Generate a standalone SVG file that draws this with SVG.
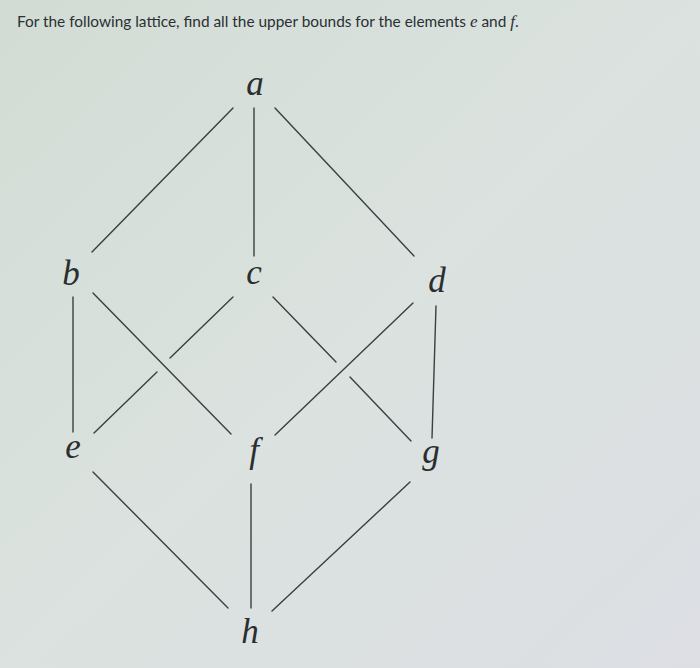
<svg xmlns="http://www.w3.org/2000/svg" width="700" height="668" viewBox="0 0 700 668">
  <defs>
    <linearGradient id="bg" x1="0" y1="0" x2="1" y2="1">
      <stop offset="0" stop-color="#d2dcd4"/>
      <stop offset="0.5" stop-color="#dbe2df"/>
      <stop offset="1" stop-color="#dcdee3"/>
    </linearGradient>
    <style>
      .title { font-family: Lato, "Open Sans", sans-serif; font-size: 15.4px; fill: #2a3034; }
      .math { font-family: "Liberation Serif", serif; font-style: italic; font-size: 17px; }
      .lbl { font-family: "Liberation Serif", serif; font-style: italic; font-size: 35px; fill: #2a2e31; text-anchor: middle; }
      .edge { stroke: #3a3f41; stroke-width: 1.4; stroke-linecap: round; fill: none; }
    </style>
  </defs>
  <rect width="700" height="668" fill="url(#bg)"/>
  <text class="title" x="17" y="27">For the following lattice, find all the upper bounds for the elements <tspan class="math">e</tspan> and <tspan class="math">f</tspan>.</text>

  <g id="connectors">
    <line class="edge" x1="233" y1="108" x2="92" y2="252"/>
    <line class="edge" x1="254" y1="108" x2="254" y2="256"/>
    <line class="edge" x1="275" y1="108" x2="414" y2="256"/>
    <line class="edge" x1="73" y1="297" x2="73" y2="432"/>
    <line class="edge" x1="93" y1="293" x2="231" y2="434"/>
    <line class="edge" x1="233" y1="297" x2="170" y2="358"/>
    <line class="edge" x1="157" y1="372" x2="94" y2="433"/>
    <line class="edge" x1="273" y1="297" x2="336" y2="362"/>
    <line class="edge" x1="350" y1="377" x2="411" y2="441"/>
    <line class="edge" x1="413" y1="303" x2="275" y2="435"/>
    <line class="edge" x1="436" y1="306" x2="432" y2="438"/>
    <line class="edge" x1="93" y1="472" x2="228" y2="608"/>
    <line class="edge" x1="251" y1="484" x2="251" y2="608"/>
    <line class="edge" x1="410" y1="482" x2="272" y2="611"/>
  </g>

  <g id="node-a"><text class="lbl" x="255" y="95">a</text></g>
  <g id="node-b"><text class="lbl" x="71" y="285">b</text></g>
  <g id="node-c"><text class="lbl" x="254" y="284">c</text></g>
  <g id="node-d"><text class="lbl" x="437" y="292">d</text></g>
  <g id="node-e"><text class="lbl" x="73" y="458">e</text></g>
  <g id="node-f"><text class="lbl" x="254" y="462">f</text></g>
  <g id="node-g"><text class="lbl" x="431" y="463">g</text></g>
  <g id="node-h"><text class="lbl" x="250" y="643">h</text></g>
</svg>
